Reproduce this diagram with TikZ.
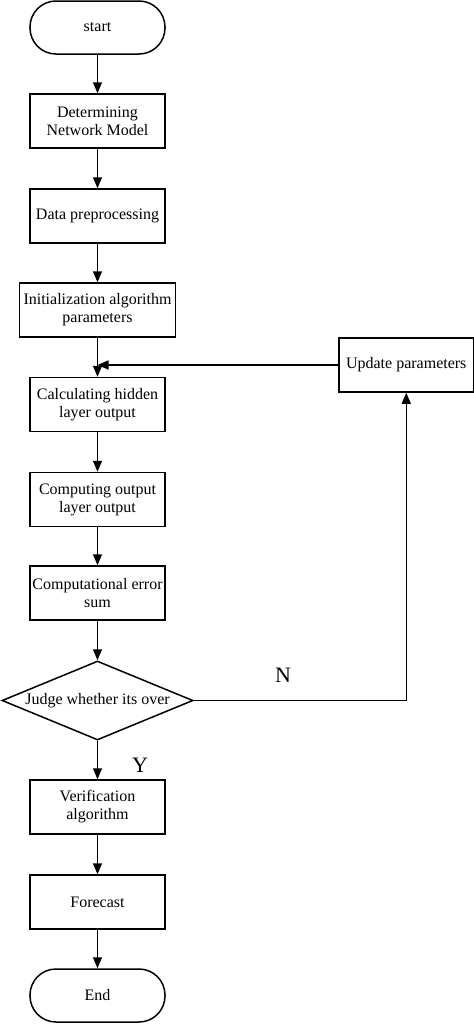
\documentclass[tikz,border=0pt]{standalone}
\usepackage{fontspec}
\setmainfont{Liberation Serif}
\usetikzlibrary{arrows.meta,shapes.geometric}
\begin{document}
\begin{tikzpicture}[x=1bp,y=-1bp,
  base/.style={draw,line width=1.5bp,align=center,inner sep=0pt,
    font=\fontsize{16bp}{18bp}\selectfont},
  procbox/.style={base,rectangle,minimum width=135bp,minimum height=54bp},
  termbox/.style={base,rectangle,rounded corners=26bp,minimum width=135bp,minimum height=53bp},
  decbox/.style={base,diamond,minimum width=191bp,minimum height=79bp},
  flow/.style={line width=1.5bp,-{Triangle[length=11bp,width=9bp]}},
  yn/.style={font=\fontsize{22bp}{24bp}\selectfont}]
\useasboundingbox (0,0) rectangle (474,1024);
\node[termbox] (start) at (97.5,27.5) {start};
\node[procbox] (det) at (97.5,121) {Determining\\Network Model};
\node[procbox] (pre) at (97.5,216) {Data preprocessing};
\node[procbox,minimum width=156bp] (init) at (97.5,310) {Initialization algorithm\\parameters};
\node[procbox] (hid) at (97.5,404.5) {Calculating hidden\\layer output};
\node[procbox] (out) at (97.5,499.5) {Computing output\\layer output};
\node[procbox] (err) at (97.5,593) {Computational error\\sum};
\node[decbox] (judge) at (97.5,700.5) {\makebox[0pt]{Judge whether its over}};
\node[procbox] (ver) at (97.5,807) {Verification\\algorithm};
\node[procbox] (fore) at (97.5,902) {Forecast};
\node[termbox] (end) at (97.5,995.5) {End};
\node[procbox,minimum width=134.5bp] (upd) at (406.25,365) {Update parameters};
\coordinate (join) at (97.5,365);
\node[yn] (nlab) at (283,675) {N};
\node[yn] (ylab) at (140,765) {Y};
\draw[flow] (start) -- (det);
\draw[flow] (det) -- (pre);
\draw[flow] (pre) -- (init);
\draw[flow] (init) -- (hid);
\draw[flow] (hid) -- (out);
\draw[flow] (out) -- (err);
\draw[flow] (err) -- (judge);
\draw[flow] (judge) -- (ver);
\draw[flow] (ver) -- (fore);
\draw[flow] (fore) -- (end);
\draw[flow] (upd.west) -- (join);
\draw[flow] (judge.east) -| (upd.south);
\end{tikzpicture}
\end{document}
